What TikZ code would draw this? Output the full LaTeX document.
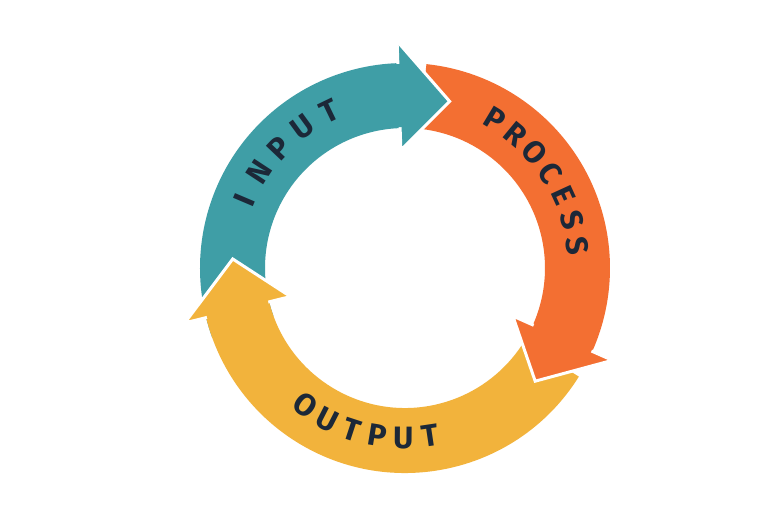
\documentclass[tikz,border=0pt]{standalone}
\usepackage{fontspec}
\setmainfont{Fira Sans}
\definecolor{teal1}{HTML}{3F9EA6}
\definecolor{orange1}{HTML}{F36F32}
\definecolor{yellow1}{HTML}{F2B33C}
\definecolor{ink}{HTML}{1C2838}
\begin{document}
\begin{tikzpicture}[x=1pt,y=1pt,
  head/.style={draw=white,line width=3pt,line join=miter},
  lbl/.style={font=\fontsize{31}{31}\selectfont\bfseries,text=ink,inner sep=0pt}]
\useasboundingbox[fill=white] (-405,-244) rectangle (363,268);
\def\Ro{205}\def\Ri{140}\def\Rm{172.5}
% bodies
\fill[teal1] (200:\Ro) arc[start angle=200,end angle=92,radius=\Ro] -- (92:\Ri) arc[start angle=92,end angle=200,radius=\Ri] -- cycle;
\fill[orange1] (84:\Ro) arc[start angle=84,end angle=-24,radius=\Ro] -- (-24:\Ri) arc[start angle=-24,end angle=84,radius=\Ri] -- cycle;
\fill[yellow1] (-32:\Ro) arc[start angle=-32,end angle=-166,radius=\Ro] -- (-166:\Ri) arc[start angle=-166,end angle=-32,radius=\Ri] -- cycle;
% heads
\filldraw[head,fill=teal1] (92:\Ro+22) -- (75:\Rm) -- (92:\Ri-22) -- cycle;
\fill[teal1] (95:\Ro-1) arc[start angle=95,end angle=90,radius=\Ro-1] -- (90:\Ri+1) arc[start angle=90,end angle=95,radius=\Ri+1] -- cycle;
\filldraw[head,fill=orange1] (-24:\Ro+22) -- (-41:\Rm) -- (-24:\Ri-22) -- cycle;
\fill[orange1] (-21:\Ro-1) arc[start angle=-21,end angle=-26,radius=\Ro-1] -- (-26:\Ri+1) arc[start angle=-26,end angle=-21,radius=\Ri+1] -- cycle;
\filldraw[head,fill=yellow1] (-166:\Ro+22) -- (-183:\Rm) -- (-166:\Ri-22) -- cycle;
\fill[yellow1] (-163:\Ro-1) arc[start angle=-163,end angle=-168,radius=\Ro-1] -- (-168:\Ri+1) arc[start angle=-168,end angle=-163,radius=\Ri+1] -- cycle;
% labels
\foreach \ch [count=\i] in {I,N,P,U,T}{
  \pgfmathsetmacro\a{157-10.3*(\i-1)}
  \node[lbl,rotate=\a-90] (in\i) at (\a:174) {\ch};}
\foreach \ch [count=\i] in {P,R,O,C,E,S,S}{
  \pgfmathsetmacro\a{59-8.6*(\i-1)}
  \node[lbl,rotate=\a-90] (pr\i) at (\a:174) {\ch};}
\foreach \ch [count=\i] in {O,U,T,P,U,T}{
  \pgfmathsetmacro\a{-126+8.9*(\i-1)}
  \node[lbl,rotate=\a+90] (ou\i) at (\a:170) {\ch};}
\end{tikzpicture}
\end{document}
